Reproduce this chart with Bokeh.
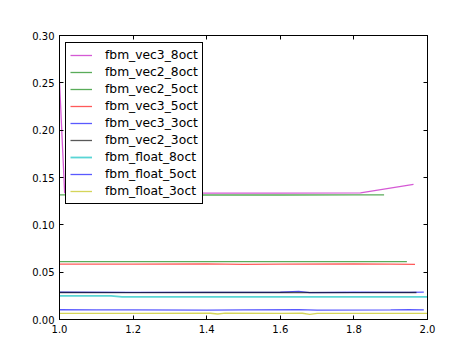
from bokeh.plotting import figure
from bokeh.models import (Legend, LegendItem, LinearAxis, FixedTicker, Range1d,
                          PrintfTickFormatter, CustomJSTickFormatter)
from bokeh.embed import file_html
from bokeh.resources import INLINE

# ---- data ----
vec3_8oct_x = [1.0, 1.014, 1.2, 1.4, 1.6, 1.818, 1.962]
vec3_8oct_y = [0.251, 0.1338, 0.1337, 0.1336, 0.1336, 0.1337, 0.1428]

vec2_8oct_x = [1.0, 1.2, 1.4, 1.6, 1.8, 1.882]
vec2_8oct_y = [0.1316, 0.1315, 0.1315, 0.1315, 0.1316, 0.1316]

vec2_5oct_x = [1.0, 1.2, 1.4, 1.6, 1.8, 1.944]
vec2_5oct_y = [0.0612, 0.0612, 0.0612, 0.0612, 0.0612, 0.0612]

vec3_5oct_x = [1.0, 1.2, 1.4, 1.5, 1.6, 1.8, 1.9, 1.966]
vec3_5oct_y = [0.0584, 0.0585, 0.0587, 0.0582, 0.0584, 0.0587, 0.0585, 0.0583]

vec3_3oct_x = [1.0, 1.2, 1.4, 1.6, 1.65, 1.68, 1.8, 1.95, 1.99]
vec3_3oct_y = [0.0288, 0.0287, 0.0287, 0.0288, 0.0298, 0.0283, 0.0288, 0.0286, 0.0289]

vec2_3oct_x = [1.0, 1.2, 1.4, 1.6, 1.8, 1.97]
vec2_3oct_y = [0.0285, 0.0284, 0.0285, 0.0285, 0.0284, 0.0285]

float_8oct_x = [1.0, 1.14, 1.17, 1.4, 1.6, 1.8, 2.0]
float_8oct_y = [0.0250, 0.0249, 0.0240, 0.0240, 0.0240, 0.0240, 0.0240]

float_5oct_x = [1.0, 1.1, 1.2, 1.4, 1.5, 1.65, 1.7, 1.9, 1.95, 1.99]
float_5oct_y = [0.0103, 0.0101, 0.0102, 0.0100, 0.0102, 0.0104, 0.0100, 0.0102, 0.0104, 0.0101]

float_3oct_x = [1.0, 1.2, 1.41, 1.43, 1.45, 1.6, 1.66, 1.68, 1.7, 1.9, 2.0]
float_3oct_y = [0.0065, 0.0065, 0.0066, 0.0058, 0.0067, 0.0065, 0.0066, 0.0054, 0.0065, 0.0065, 0.0065]

series = [
    ("fbm_vec3_8oct", vec3_8oct_x, vec3_8oct_y, "#bf00bf"),
    ("fbm_vec2_8oct", vec2_8oct_x, vec2_8oct_y, "#008000"),
    ("fbm_vec2_5oct", vec2_5oct_x, vec2_5oct_y, "#008000"),
    ("fbm_vec3_5oct", vec3_5oct_x, vec3_5oct_y, "#ff0000"),
    ("fbm_vec3_3oct", vec3_3oct_x, vec3_3oct_y, "#0000ff"),
    ("fbm_vec2_3oct", vec2_3oct_x, vec2_3oct_y, "#000000"),
    ("fbm_float_8oct", float_8oct_x, float_8oct_y, "#00bfbf"),
    ("fbm_float_5oct", float_5oct_x, float_5oct_y, "#0000ff"),
    ("fbm_float_3oct", float_3oct_x, float_3oct_y, "#bfbf00"),
]

x_ticks = [1.0, 1.2, 1.4, 1.6, 1.8, 2.0]
y_ticks = [0.0, 0.05, 0.10, 0.15, 0.20, 0.25, 0.30]

FONT = "DejaVu Sans"

p = figure(width=474, height=355, output_backend="svg", toolbar_location=None,
           x_range=Range1d(1.0, 2.0), y_range=Range1d(0.0, 0.30),
           min_border_left=59, min_border_right=47, min_border_top=35, min_border_bottom=36)
p.grid.visible = False
p.outline_line_color = "black"
p.outline_line_width = 1
p.background_fill_color = "white"
p.border_fill_color = "white"

items = []
for name, xs, ys, col in series:
    w = 1.8 if name == "fbm_float_8oct" else 1.3
    r = p.line(xs, ys, line_color=col, line_alpha=0.65, line_width=w)
    items.append(LegendItem(label=name, renderers=[r]))

def style_axis(ax, ticks):
    ax.ticker = FixedTicker(ticks=ticks)
    ax.axis_line_color = "black"
    ax.major_tick_in = 4
    ax.major_tick_out = 0
    ax.minor_tick_in = 0
    ax.minor_tick_out = 0
    ax.major_tick_line_color = "black"
    ax.major_label_text_font = FONT
    ax.major_label_text_font_size = "10px"
    ax.major_label_text_color = "black"
    ax.major_label_standoff = 5

style_axis(p.xaxis[0], x_ticks)
style_axis(p.yaxis[0], y_ticks)
p.xaxis[0].formatter = PrintfTickFormatter(format="%.1f")
p.yaxis[0].formatter = PrintfTickFormatter(format="%.2f")

top_ax = LinearAxis(formatter=CustomJSTickFormatter(code="return ''"))
style_axis(top_ax, x_ticks)
right_ax = LinearAxis(formatter=CustomJSTickFormatter(code="return ''"))
style_axis(right_ax, y_ticks)
p.add_layout(top_ax, "above")
p.add_layout(right_ax, "right")

legend = Legend(items=items, location=(6, 115), margin=0, padding=4,
                spacing=1, label_height=16, glyph_height=16, glyph_width=22,
                label_standoff=13, label_text_font=FONT, label_text_font_size="12.3px",
                label_text_color="black", border_line_color="black", border_line_width=1,
                border_line_alpha=1.0, background_fill_color="white", background_fill_alpha=1.0)
p.add_layout(legend, "center")

open("out.html", "w").write(file_html(p, INLINE))
